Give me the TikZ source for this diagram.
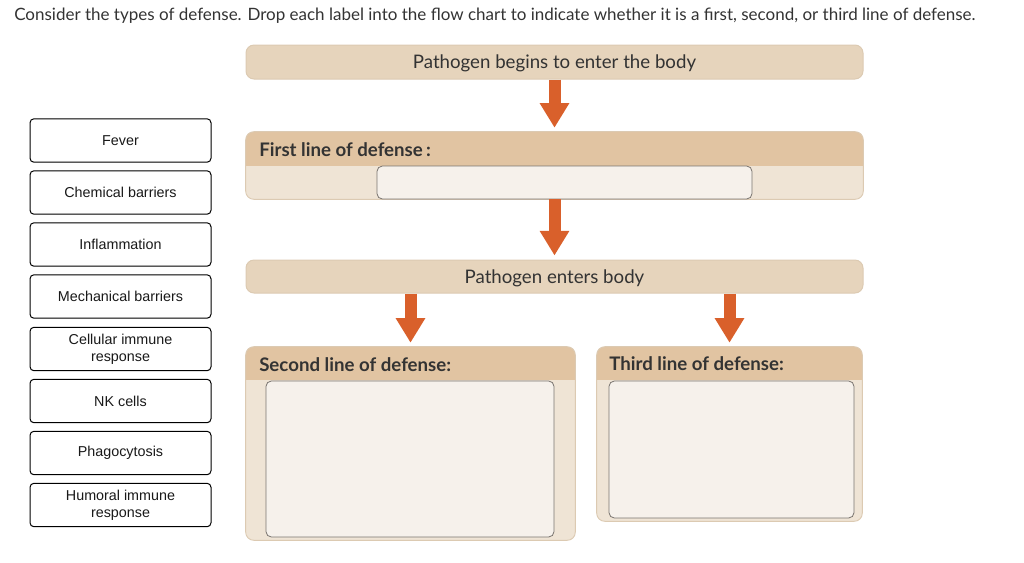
\documentclass[tikz,border=0pt]{standalone}
\usepackage{fontspec}
\setmainfont{Lato}
\newfontfamily\arialf{Liberation Sans}
\usetikzlibrary{arrows.meta,fit}
\definecolor{topc}{HTML}{E6D4BC}
\definecolor{hdrc}{HTML}{E1C4A2}
\definecolor{lowc}{HTML}{EFE4D5}
\definecolor{inc}{HTML}{F6F1EB}
\definecolor{arrc}{HTML}{D9602B}
\definecolor{txtc}{HTML}{333333}
\definecolor{edgec}{HTML}{DCCAB2}
\definecolor{slotedge}{HTML}{7A7570}
\begin{document}
\begin{tikzpicture}[x=0.75pt,y=-0.75pt,
 banner/.style={fill=topc, draw=edgec, line width=0.75pt, rounded corners=6pt, inner sep=0pt,
   minimum width=462.75pt, minimum height=25.5pt, text depth=0pt,
   text=txtc, font=\fontsize{14}{16}\selectfont},
 panel/.style={fill=lowc, inner sep=0pt},
 outline/.style={draw=edgec, line width=0.75pt, rounded corners=6pt},
 slot/.style={fill=inc, draw=slotedge, line width=0.6pt, rounded corners=4pt, inner sep=0pt},
 chip/.style={draw=black, line width=0.75pt, rounded corners=3pt, fill=white, inner sep=0pt,
   minimum width=135.75pt, minimum height=32.6pt,
   align=center, text=black!90, font=\arialf\fontsize{10.75}{13}\selectfont},
 hdrtext/.style={text=txtc, font=\bfseries\fontsize{14}{16}\selectfont, anchor=west, inner sep=0pt},
 flowarrow/.style={draw=arrc, line width=9pt, shorten >=3pt, -{Triangle[width=21pt,length=18.5pt]}},
]
\useasboundingbox (0,0) rectangle (1024,562);

% title
\node[anchor=west, inner sep=0pt, text=txtc, font=\fontsize{12.75}{15}\selectfont] (title) at (14,15.5)
  {Consider the types of defense. Drop each label into the flow chart to indicate whether it is a first, second, or third line of defense.};

% banners
\node[banner] (begin) at (554.5,62) {Pathogen begins to enter the body};
\node[banner, minimum height=24.75pt] (enters) at (554.5,276.5) {Pathogen enters body};

% first panel
\node[panel, rounded corners=6pt, fit={(246,132) (863,199)}] (first) {};
\begin{scope}
  \clip[rounded corners=6pt] (first.north west) rectangle (first.south east);
  \fill[hdrc] (first.north west) rectangle (863,166);
\end{scope}
\draw[outline] (first.north west) rectangle (first.south east);
\node[slot, fit={(377,166) (752,199)}] (firstslot) {};
\node[hdrtext] (firsthdr) at (259,149.5) {First line of defense\,:};

% second panel
\node[panel, rounded corners=6pt, fit={(246,347) (575,540)}] (second) {};
\begin{scope}
  \clip[rounded corners=6pt] (second.north west) rectangle (second.south east);
  \fill[hdrc] (second.north west) rectangle (575,380);
\end{scope}
\draw[outline] (second.north west) rectangle (second.south east);
\node[slot, fit={(266,381) (554,537)}] (secondslot) {};
\node[hdrtext] (secondhdr) at (259,364.5) {Second line of defense:};

% third panel
\node[panel, rounded corners=6pt, fit={(597,347) (862,521)}] (third) {};
\begin{scope}
  \clip[rounded corners=6pt] (third.north west) rectangle (third.south east);
  \fill[hdrc] (third.north west) rectangle (862,380);
\end{scope}
\draw[outline] (third.north west) rectangle (third.south east);
\node[slot, fit={(609,381) (854,518)}] (thirdslot) {};
\node[hdrtext] (thirdhdr) at (609,364) {Third line of defense:};

% arrows
\draw[flowarrow] (begin.south) -- (first.north);
\draw[flowarrow] (first.south) -- (enters.north);
\draw[flowarrow] (enters.south -| second.north) -- (second.north);
\draw[flowarrow] (enters.south -| third.north) -- (third.north);

% labels
\node[chip] (fever)   at (120.5,140.5) {Fever};
\node[chip] (chem)    at (120.5,192.5) {Chemical barriers};
\node[chip] (infl)    at (120.5,244.5) {Inflammation};
\node[chip] (mech)    at (120.5,296.5) {Mechanical barriers};
\node[chip] (cell)    at (120.5,349)   {Cellular immune\\response};
\node[chip] (nk)      at (120.5,401)   {NK cells};
\node[chip] (phago)   at (120.5,453)   {Phagocytosis};
\node[chip] (humoral) at (120.5,505)   {Humoral immune\\response};
\end{tikzpicture}
\end{document}
